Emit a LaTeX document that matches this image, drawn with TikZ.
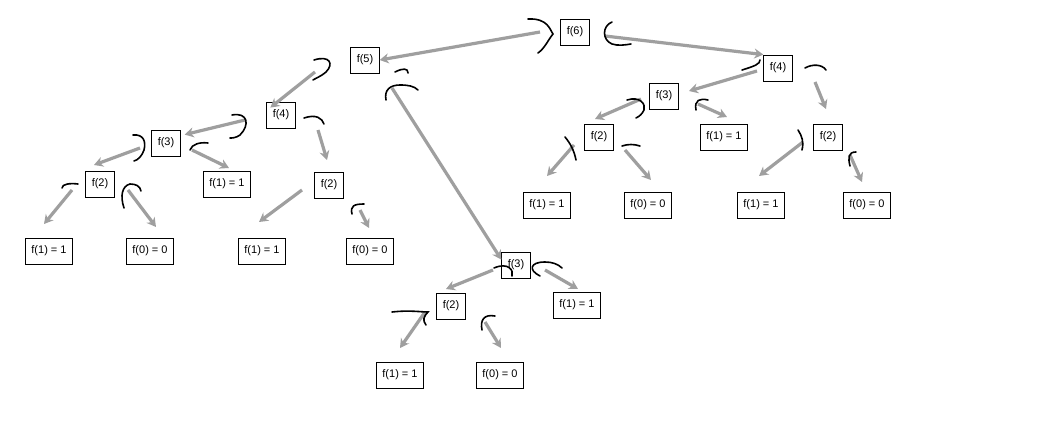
\documentclass[tikz,border=0pt]{standalone}
\usepackage{fontspec}
\setmainfont{Liberation Sans}
\usetikzlibrary{arrows.meta}
\begin{document}
\begin{tikzpicture}[x=1pt,y=-1pt,
 box/.style={draw,line width=0.8pt,fill=white,minimum height=26pt,inner xsep=6pt,font=\fontsize{11}{13}\selectfont},
 arr/.style={draw=gray!75,line width=3.2pt,-{Stealth[length=9pt,width=10pt]}},
 hand/.style={draw=black,line width=1.6pt,line cap=round}]
\useasboundingbox[fill=white] (0,0) rectangle (1042,441);
\node[box] (a6) at (575,32) {f(6)};
\node[box] (a5) at (365,60) {f(5)};
\node[box] (r4) at (778,68) {f(4)};
\node[box] (l4) at (281,115) {f(4)};
\node[box] (l3) at (166,143) {f(3)};
\node[box] (l2) at (100,184) {f(2)};
\node[box] (l1) at (227,184) {f(1) = 1};
\node[box] (m2) at (329,185) {f(2)};
\node[box] (b1) at (49,251) {f(1) = 1};
\node[box] (b2) at (150,251) {f(0) = 0};
\node[box] (b3) at (262,251) {f(1) = 1};
\node[box] (b4) at (370,251) {f(0) = 0};
\node[box] (r3) at (664,96) {f(3)};
\node[box] (r2) at (599,137) {f(2)};
\node[box] (r1) at (724,137) {f(1) = 1};
\node[box] (s2) at (828,137) {f(2)};
\node[box] (c1) at (547,205) {f(1) = 1};
\node[box] (c2) at (648,205) {f(0) = 0};
\node[box] (c3) at (761,205) {f(1) = 1};
\node[box] (c4) at (867,205) {f(0) = 0};
\node[box] (t3) at (516,265) {f(3)};
\node[box] (t1) at (577,305) {f(1) = 1};
\node[box] (t2) at (451,306) {f(2)};
\node[box] (d1) at (400,375) {f(1) = 1};
\node[box] (d2) at (500,375) {f(0) = 0};
% arrows
\coordinate (p1) at (540,32); \draw[arr] (p1) -- (a5.east);
\coordinate (p2) at (605,36); \draw[arr] (p2) -- (r4.north west);
\coordinate (p3) at (392,88); \draw[arr] (p3) -- ([yshift=-8pt]t3.north west);
\coordinate (p4) at (315,72); \draw[arr] (p4) -- ([xshift=4pt,yshift=-6pt]l4.north west);
\coordinate (p5) at (245,120); \draw[arr] (p5) -- ([xshift=4pt,yshift=-5pt]l3.north east);
\coordinate (p6) at (318,130); \draw[arr] (p6) -- (327,160);
\coordinate (p7) at (140,148); \draw[arr] (p7) -- (94,165);
\coordinate (p8) at (192,150); \draw[arr] (p8) -- (229,168);
\coordinate (p9) at (72,190); \draw[arr] (p9) -- (44,224);
\coordinate (p10) at (128,190); \draw[arr] (p10) -- (156,227);
\coordinate (p11) at (302,190); \draw[arr] (p11) -- (259,222);
\coordinate (p12) at (360,210); \draw[arr] (p12) -- (369,228);
\coordinate (q1) at (757,71); \draw[arr] (q1) -- (689,91);
\coordinate (q2) at (815,82); \draw[arr] (q2) -- (826,109);
\coordinate (q3) at (641,99); \draw[arr] (q3) -- (595,119);
\coordinate (q4) at (698,104); \draw[arr] (q4) -- (727,117);
\coordinate (q5) at (574,145); \draw[arr] (q5) -- (547,176);
\coordinate (q6) at (625,150); \draw[arr] (q6) -- (651,180);
\coordinate (q7) at (803,142); \draw[arr] (q7) -- (759,176);
\coordinate (q8) at (850,155); \draw[arr] (q8) -- (862,182);
\coordinate (q9) at (493,270); \draw[arr] (q9) -- (446,289);
\coordinate (q10) at (545,270); \draw[arr] (q10) -- (578,289);
\coordinate (q11) at (425,312); \draw[arr] (q11) -- (400,348);
\coordinate (q12) at (485,322); \draw[arr] (q12) -- (501,348);
% hand-drawn marks
\draw[hand] (528,19) .. controls (548,18) and (550,30) .. (553,34) .. controls (548,40) and (545,48) .. (538,53);
\draw[hand] (612,22) .. controls (602,26) and (602,40) .. (612,44) .. controls (618,46) and (625,45) .. (631,44);
\draw[hand] (314,60) .. controls (330,55) and (334,64) .. (326,72) .. controls (320,77) and (316,78) .. (313,80);
\draw[hand] (395,72) .. controls (403,68) and (408,68) .. (408,73);
\draw[hand] (386,100) .. controls (384,90) and (390,85) .. (400,85) .. controls (408,85) and (414,86) .. (418,90);
\draw[hand] (232,115) .. controls (248,112) and (250,125) .. (240,135) .. controls (236,138) and (232,138) .. (230,138);
\draw[hand] (304,118) .. controls (316,114) and (322,118) .. (324,124);
\draw[hand] (133,135) .. controls (144,134) and (146,142) .. (144,150) .. controls (142,156) and (138,160) .. (134,161);
\draw[hand] (190,150) .. controls (192,144) and (200,142) .. (208,143);
\draw[hand] (62,188) .. controls (62,184) and (70,183) .. (78,184);
\draw[hand] (124,208) .. controls (120,196) and (122,186) .. (130,184) .. controls (136,184) and (140,186) .. (141,191);
\draw[hand] (352,214) .. controls (350,206) and (354,204) .. (364,204);
\draw[hand] (742,70) .. controls (755,66) and (760,64) .. (760,60);
\draw[hand] (805,68) .. controls (812,64) and (822,64) .. (826,70);
\draw[hand] (627,100) .. controls (640,96) and (646,104) .. (644,110) .. controls (642,114) and (640,116) .. (636,118);
\draw[hand] (696,110) .. controls (694,100) and (700,98) .. (708,100);
\draw[hand] (565,137) .. controls (570,143) and (574,150) .. (576,160);
\draw[hand] (622,146) .. controls (628,144) and (634,144) .. (640,146);
\draw[hand] (798,130) .. controls (802,136) and (804,142) .. (802,150);
\draw[hand] (850,166) .. controls (848,158) and (848,152) .. (856,152);
\draw[hand] (494,268) .. controls (508,262) and (514,270) .. (512,276);
\draw[hand] (540,276) .. controls (528,270) and (530,262) .. (545,262) .. controls (552,262) and (558,264) .. (562,268);
\draw[hand] (392,312) .. controls (410,310) and (420,312) .. (428,312) .. controls (424,316) and (422,320) .. (426,325);
\draw[hand] (482,330) .. controls (480,320) and (484,314) .. (495,316);
\end{tikzpicture}
\end{document}
